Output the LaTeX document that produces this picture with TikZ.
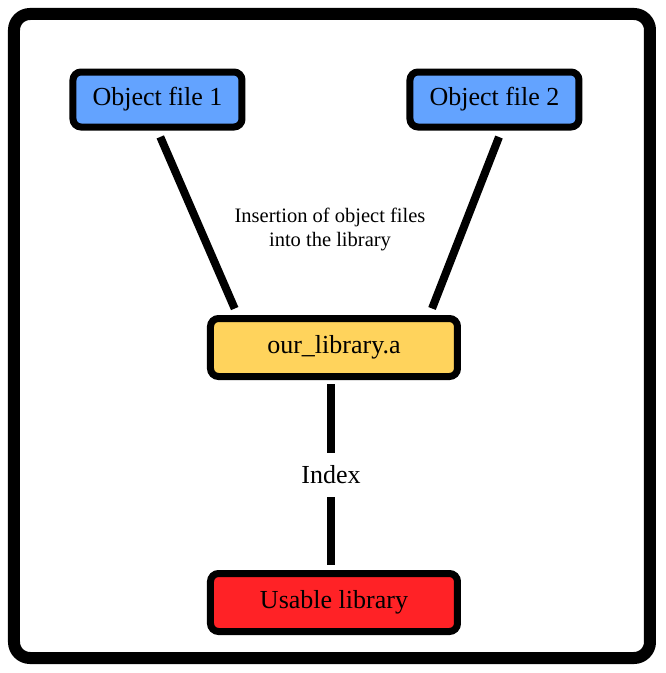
\documentclass[tikz,border=0pt]{standalone}
\usepackage{fontspec}
\setmainfont{Liberation Serif}
\usepackage{xcolor}
\usetikzlibrary{positioning,calc}

\definecolor{objblue}{RGB}{99,163,255}
\definecolor{libyellow}{RGB}{255,211,92}
\definecolor{usablered}{RGB}{255,34,38}

\begin{document}
\begin{tikzpicture}[
    node distance=255pt,
    objbox/.style={rectangle, draw=black, line width=7pt, fill=objblue, rounded corners=8pt, minimum width=169pt, minimum height=55pt, font=\fontsize{26}{31}\selectfont},
    libbox/.style={objbox, fill=libyellow, minimum width=247pt, minimum height=58pt},
    note/.style={align=center, font=\fontsize{20.5}{24}\selectfont},
    link/.style={line width=8pt, shorten <=7pt, shorten >=7pt}
]

\useasboundingbox (-334pt,347.5pt) rectangle (331pt,-325.5pt);

% Outer frame
\draw[line width=12pt, rounded corners=16pt, fill=white] (-320pt,333.5pt) rectangle (316pt,-310.5pt);

% Library
\node[libbox] (lib) at (0,0) {our\_library.a};

% Usable library
\node[libbox, fill=usablered, below of=lib] (usable) {Usable library};

% Object files
\node[objbox, above of=lib, xshift=-176.5pt, yshift=-7pt] (obj1) {Object file 1};
\node[objbox, above of=lib, xshift=160.5pt, yshift=-7pt] (obj2) {Object file 2};

% Insertion label
\node[note, above of=lib, xshift=-4pt, yshift=-136.5pt] (insert) {Insertion of object files\\into the library};

% Connections
\draw[link] (obj1.south) -- ($(lib.north west)!0.12!(lib.north east)$);
\draw[link] ($(obj2.south west)!0.54!(obj2.south east)$) -- ($(lib.north west)!0.876!(lib.north east)$);
\draw[link, shorten <=4pt, shorten >=5pt] ([xshift=-3pt]lib.south) -- node[fill=white, inner sep=12.5pt, font=\fontsize{26}{31}\selectfont] (index) {Index} ([xshift=-3pt]usable.north);

\end{tikzpicture}
\end{document}
